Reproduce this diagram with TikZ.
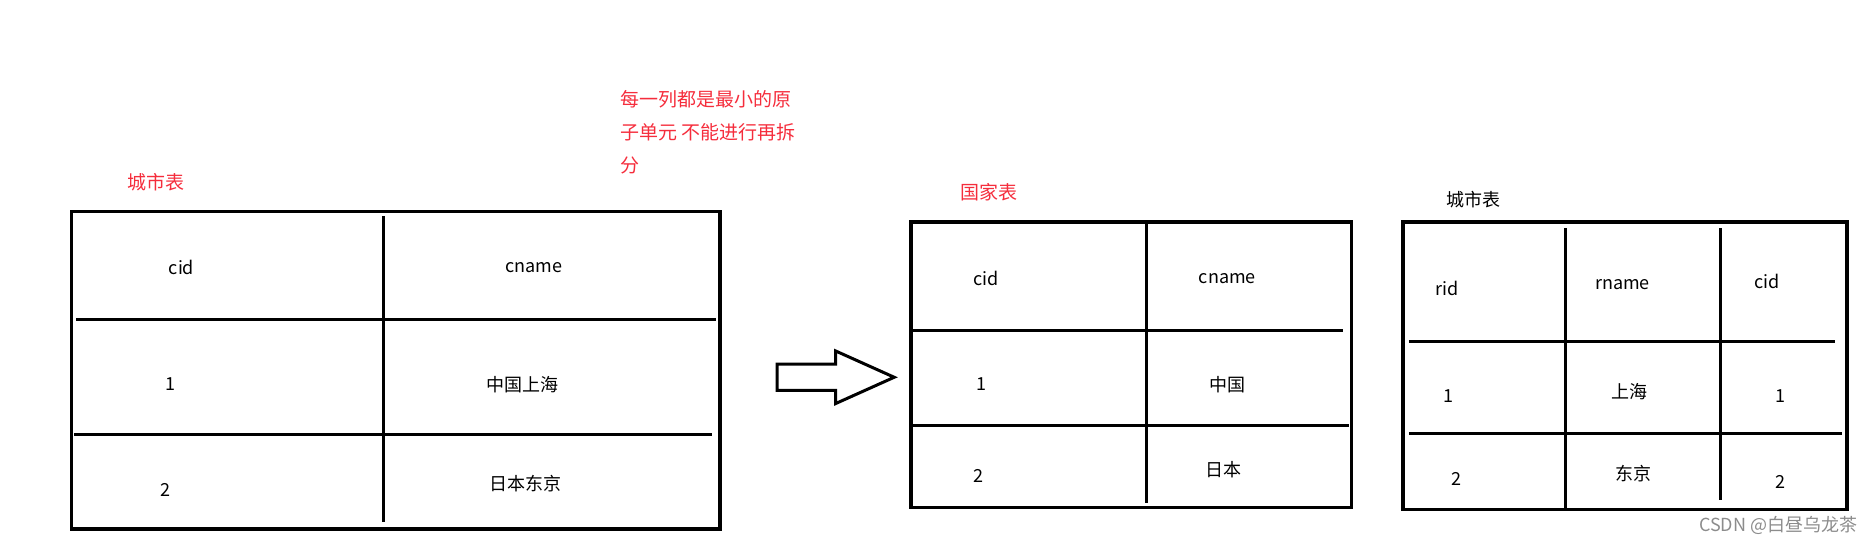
\documentclass[tikz,border=0pt]{standalone}
\usepackage{fontspec}
\setmainfont{Noto Sans CJK SC}
\usepackage{xcolor}
\usepackage{tikz}
\definecolor{notered}{RGB}{245,45,60}
\tikzstyle{cell} = [font=\fontsize{9}{11}\selectfont, inner sep=0pt, text=black]
\tikzstyle{redlabel} = [font=\fontsize{9.5}{16.7}\selectfont, inner sep=0pt, text=notered, align=left]
\tikzstyle{frame} = [line width=1.7pt]
\tikzstyle{rule} = [line width=1.5pt]
\tikzstyle{bigarrow} = [line width=1.5pt, line join=miter]

\begin{document}
\begin{tikzpicture}[x=0.597pt, y=-0.597pt]
    \useasboundingbox (0,0) rectangle (1568,457);

    % titles and note
    \node (note) [redlabel, anchor=north west] at (519,75) {每一列都是最小的原\\子单元 不能进行再拆\\分};
    \node (citytitle) [redlabel] at (131,153) {城市表};
    \node (countrytitle) [redlabel] at (828,161) {国家表};
    \node (regiontitle) [cell] at (1234,167) {城市表};

    % first table
    \draw [frame] (60,177) rectangle (603,443);
    \draw [rule] (321,181) -- (321,437);
    \draw [rule] (64,268) -- (600,268);
    \draw [rule] (62,364) -- (596,364);
    \node (acid) [cell] at (152,224) {cid};
    \node (acname) [cell] at (447,224) {cname};
    \node (aone) [cell] at (143,322) {1};
    \node (ashanghai) [cell] at (438,322) {中国上海};
    \node (atwo) [cell] at (139,410) {2};
    \node (atokyo) [cell] at (440,405) {日本东京};

    % arrow
    \coordinate (arrowtail) at (651,316);
    \draw [bigarrow] (arrowtail) ++(0,-11) -- ++(49,0) -- ++(0,-11) -- ++(49,22)
        -- ++(-49,22) -- ++(0,-11) -- ++(-49,0) -- cycle;

    % country table
    \draw [frame] (763,186) rectangle (1132,425);
    \draw [rule] (960,188) -- (960,421);
    \draw [rule] (764,277) -- (1125,277);
    \draw [rule] (765,356) -- (1130,356);
    \node (bcid) [cell] at (826,233) {cid};
    \node (bcname) [cell] at (1028,233) {cname};
    \node (bone) [cell] at (822,322) {1};
    \node (bchina) [cell] at (1028,322) {中国};
    \node (btwo) [cell] at (820,399) {2};
    \node (bjapan) [cell] at (1025,393) {日本};

    % city table
    \draw [frame] (1175,186) rectangle (1547,427);
    \draw [rule] (1311,191) -- (1311,427);
    \draw [rule] (1441,191) -- (1441,419);
    \draw [rule] (1180,286) -- (1537,286);
    \draw [rule] (1180,363) -- (1543,363);
    \node (crid) [cell] at (1212,242) {rid};
    \node (crname) [cell] at (1359,238) {rname};
    \node (ccid) [cell] at (1480,236) {cid};
    \node (cone) [cell] at (1213,332) {1};
    \node (cshanghai) [cell] at (1365,328) {上海};
    \node (ccone) [cell] at (1491,332) {1};
    \node (ctwo) [cell] at (1220,401) {2};
    \node (ctokyo) [cell] at (1368,397) {东京};
    \node (cctwo) [cell] at (1491,404) {2};

    \node (mark) [cell, text=black!45, anchor=east] at (1556,440) {CSDN @白昼乌龙茶};
\end{tikzpicture}
\end{document}
